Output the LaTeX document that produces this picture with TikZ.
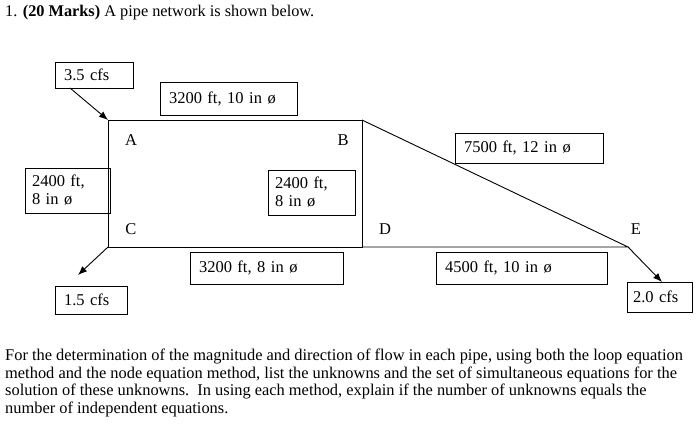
\documentclass[tikz,border=0pt]{standalone}
\usepackage{fontspec}
\setmainfont{Liberation Serif}
\usetikzlibrary{arrows.meta, positioning, calc}

\begin{document}
\begin{tikzpicture}[
    x=1pt, y=-1pt,
    pipe_box/.style={
        draw=black,
        line width=0.8pt,
        inner xsep=9pt,
        inner ysep=0pt,
        font=\fontsize{16.5}{18}\selectfont,
        align=left
    },
    pipe_line/.style={
        line width=0.9pt,
        color=black
    },
    flow_arrow/.style={
        -{Latex[length=9pt,width=7pt]},
        line width=0.9pt,
        color=black
    },
    joint_label/.style={
        font=\fontsize{16.5}{18}\selectfont
    }
]
\useasboundingbox (0,0) rectangle (700,427);

% =========================
% TITLE
% =========================
\node[anchor=west, font=\fontsize{16.3}{18}\selectfont, inner sep=0pt] (title) at (5,13)
    {1. \textbf{(20 Marks)} A pipe network is shown below.};

% =========================
% JUNCTIONS
% =========================
\coordinate (A) at (108,120);
\coordinate (B) at (362,120);
\coordinate (C) at (108,247);
\coordinate (D) at (362,247);
\coordinate (E) at (628,247);
\coordinate (Cout) at (78,275);
\coordinate (Eout) at (662,282);
\coordinate (Ain) at (70,88);

\node[joint_label] (lblA) at (131,140) {A};
\node[joint_label] (lblB) at (343,140) {B};
\node[joint_label] (lblC) at (131,229) {C};
\node[joint_label] (lblD) at (385,229) {D};
\node[joint_label] (lblE) at (636,229) {E};

% =========================
% PIPES
% =========================
\draw[pipe_line] (A) -- (B) -- (D) -- (C) -- cycle;
\draw[pipe_line] (D) -- (E) -- (B);

% =========================
% LABEL BOXES
% =========================
\node[pipe_box, text width=60, minimum height=26] (qin) at (94,75) {3.5 cfs};
\node[pipe_box, text width=119, minimum height=33] (pAB) at (228.5,98.5) {3200 ft, 10 in ø};
\node[pipe_box, text width=130, minimum height=30] (pBE) at (529,148) {7500 ft, 12 in ø};
\node[pipe_box, text width=71, minimum height=45, inner xsep=7pt] (pAC) at (67.5,190.5) {2400 ft,\\8 in ø};
\node[pipe_box, text width=73, minimum height=45, inner xsep=7pt] (pBD) at (311.5,192.5) {2400 ft,\\8 in ø};
\node[pipe_box, text width=135, minimum height=32] (pCD) at (266.5,268) {3200 ft, 8 in ø};
\node[pipe_box, text width=153, minimum height=32] (pDE) at (521.5,268) {4500 ft, 10 in ø};
\node[pipe_box, text width=54, minimum height=28] (qC) at (91,300) {1.5 cfs};
\node[pipe_box, text width=53, minimum height=30, inner xsep=6pt] (qE) at (659.5,297) {2.0 cfs};

% =========================
% FLOWS
% =========================
\draw[flow_arrow] (Ain) -- (A);
\draw[flow_arrow] (C) -- (Cout);
\draw[flow_arrow] (E) -- (Eout);

% =========================
% QUESTION
% =========================
\node[anchor=north west, align=left, inner sep=0pt, font=\fontsize{16.4}{17.5}\selectfont] (question) at (5,349)
    {For the determination of the magnitude and direction of flow in each pipe, using both the loop equation\\
     method and the node equation method, list the unknowns and the set of simultaneous equations for the\\
     solution of these unknowns.\ \ In using each method, explain if the number of unknowns equals the\\
     number of independent equations.};
\end{tikzpicture}
\end{document}
